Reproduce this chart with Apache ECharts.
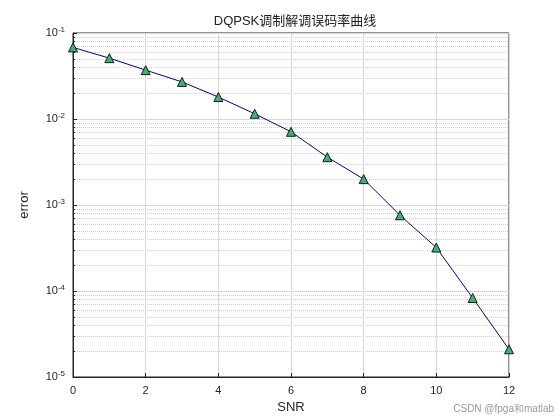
<!DOCTYPE html>
<html><head><meta charset="utf-8">
<script src="https://cdn.jsdelivr.net/npm/echarts@6/dist/echarts.min.js"></script>
<style>html,body{margin:0;padding:0;background:#fff}#c{width:560px;height:420px}</style>
</head><body><div id="c"></div>
<script>
const snr = [0,1,2,3,4,5,6,7,8,9,10,11,12];
const errorRate = [0.068,0.051,0.037,0.027,0.018,0.0115,0.0071,0.0036,0.0020,0.00076,0.00032,0.000083,0.000021];
const xTicks = [0,2,4,6,8,10,12];
const ch = echarts.init(document.getElementById('c'));
const supMap = {'-1':'-1','-2':'-2','-3':'-3','-4':'-4','-5':'-5'};
ch.setOption({
  animation:false,
  title:{text:'DQPSK调制解调误码率曲线',left:290,top:10,textAlign:'center',textStyle:{fontSize:13,fontWeight:'normal',color:'#222',fontFamily:'Arial, "Noto Sans CJK SC"'}},
  grid:{left:73,right:51,top:33,bottom:43,show:true,borderColor:'#262626',borderWidth:1},
  xAxis:{type:'value',min:0,max:12,interval:2,name:'SNR',nameLocation:'middle',nameGap:22,
    nameTextStyle:{fontSize:13,color:'#262626'},
    axisLine:{lineStyle:{color:'#262626'}},axisTick:{inside:true,length:4,lineStyle:{color:'#262626'}},
    axisLabel:{color:'#262626',fontSize:11},
    splitLine:{show:true,lineStyle:{color:'#d8d8d8',type:'solid'}}},
  yAxis:{type:'log',logBase:10,min:1e-5,max:1e-1,name:'error',nameLocation:'middle',nameGap:42,
    nameTextStyle:{fontSize:13,color:'#262626'},
    axisLine:{lineStyle:{color:'#262626'}},axisTick:{inside:true,length:4,lineStyle:{color:'#262626'}},
    axisLabel:{color:'#262626',fontSize:11,formatter:v=>{const e=Math.round(Math.log10(v));return '10{s|'+e+'}';},
      rich:{s:{fontSize:8,verticalAlign:'top',padding:[0,0,6,0]}}},
    splitLine:{show:true,lineStyle:{color:'#d8d8d8'}},
    minorTick:{show:true,splitNumber:9,length:2},
    minorSplitLine:{show:true,lineStyle:{color:'#d0d0d0',type:'dotted'}}},
  series:[{type:'line',data:snr.map((x,i)=>[x,errorRate[i]]),
    lineStyle:{color:'#00008b',width:1},symbol:'triangle',symbolSize:9,
    itemStyle:{color:'#3cb371',borderColor:'#1a1a1a',borderWidth:1}}],
  graphic:[{type:'text',right:6,bottom:6,style:{text:'CSDN @fpga和matlab',fill:'#999',fontSize:10}}]
});
</script></body></html>
